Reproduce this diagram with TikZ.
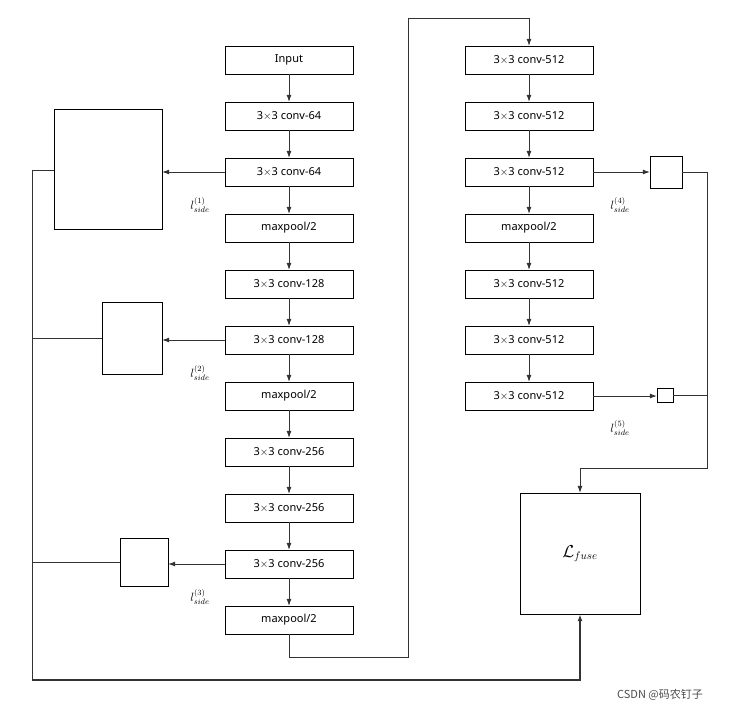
\documentclass[tikz,border=0pt]{standalone}
\usepackage{amsmath}
\usepackage{fontspec}
\setsansfont{Noto Sans}
\newfontfamily\cjk{Noto Sans CJK SC}
\usetikzlibrary{arrows.meta}

\begin{document}
\begin{tikzpicture}[x=1pt,y=-1pt,
		layer/.style={draw, minimum width=128pt, minimum height=28pt, font=\sffamily\fontsize{11}{13}\selectfont, inner sep=0pt},
		sidebox/.style={draw, inner sep=0pt},
		conn/.style={draw=black!80, line width=0.8pt, -{Latex[length=7pt,width=5pt]}},
		side/.style={font=\fontsize{12}{14}\selectfont}]
	\useasboundingbox (0,0) rectangle (745,716);
	% left column
	\node[layer] (in) at (289,60) {Input};
	\node[layer] (c1) at (289,116) {3$\times$3 conv-64};
	\node[layer] (c2) at (289,172) {3$\times$3 conv-64};
	\node[layer] (p1) at (289,228) {maxpool/2};
	\node[layer] (c3) at (289,284) {3$\times$3 conv-128};
	\node[layer] (c4) at (289,340) {3$\times$3 conv-128};
	\node[layer] (p2) at (289,396) {maxpool/2};
	\node[layer] (c5) at (289,452) {3$\times$3 conv-256};
	\node[layer] (c6) at (289,508) {3$\times$3 conv-256};
	\node[layer] (c7) at (289,564) {3$\times$3 conv-256};
	\node[layer] (p3) at (289,620) {maxpool/2};
	% right column
	\node[layer] (d1) at (529,60) {3$\times$3 conv-512};
	\node[layer] (d2) at (529,116) {3$\times$3 conv-512};
	\node[layer] (d3) at (529,172) {3$\times$3 conv-512};
	\node[layer] (p4) at (529,228) {maxpool/2};
	\node[layer] (d4) at (529,284) {3$\times$3 conv-512};
	\node[layer] (d5) at (529,340) {3$\times$3 conv-512};
	\node[layer] (d6) at (529,396) {3$\times$3 conv-512};
	% side outputs
	\node[sidebox, minimum width=108pt, minimum height=120pt] (s1) at (108,169) {};
	\node[sidebox, minimum width=60pt, minimum height=72pt] (s2) at (132,338) {};
	\node[sidebox, minimum width=48pt, minimum height=48pt] (s3) at (144,562) {};
	\node[sidebox, minimum width=32pt, minimum height=32pt] (s4) at (666,172) {};
	\node[sidebox, minimum width=16pt, minimum height=14pt] (s5) at (665,395) {};
	\node[sidebox, minimum width=120pt, minimum height=121pt, font=\fontsize{16}{18}\selectfont] (fuse) at (580,553.5) {$\mathcal{L}_{fuse}$};
	\node[side] (l1) at (200,205) {$l_{side}^{(1)}$};
	\node[side] (l2) at (200,373) {$l_{side}^{(2)}$};
	\node[side] (l3) at (200,597) {$l_{side}^{(3)}$};
	\node[side] (l4) at (620,205) {$l_{side}^{(4)}$};
	\node[side] (l5) at (620,428) {$l_{side}^{(5)}$};
	% main chain
	\foreach \a/\b in {in/c1,c1/c2,c2/p1,p1/c3,c3/c4,c4/p2,p2/c5,c5/c6,c6/c7,c7/p3,d1/d2,d2/d3,d3/p4,p4/d4,d4/d5,d5/d6}
		\draw[conn] (\a) -- (\b);
	\draw[conn] (p3.south) |- (408,657) |- (529,18) -- (d1.north);
	% side branches
	\draw[conn] (c2.west) -- (c2.west -| s1.east);
	\draw[conn] (c4.west) -- (c4.west -| s2.east);
	\draw[conn] (c7.west) -- (c7.west -| s3.east);
	\draw[conn] (d3.east) -- (s4.west);
	\draw[conn] (d6.east) -- (d6.east -| s5.west);
	\draw[black!80, line width=0.8pt] (s1.west |- 0,170) -- (32,170) -- (32,680);
	\draw[black!80, line width=0.8pt] (s2.west |- 0,338) -- (32,338);
	\draw[black!80, line width=0.8pt] (s3.west |- 0,562) -- (32,562);
	\draw[conn, line width=1.6pt] (32,680) -| (fuse.south);
	\draw[black!80, line width=0.8pt] (s4.east) -- (707,172) -- (707,395) -- (s5.east |- 0,395);
	\draw[conn] (707,395) |- (580,468) -- (fuse.north);
	\node[font=\cjk\fontsize{11}{13}\selectfont, text=black!70] (wm) at (660,695) {CSDN @码农钉子};
\end{tikzpicture}
\end{document}
